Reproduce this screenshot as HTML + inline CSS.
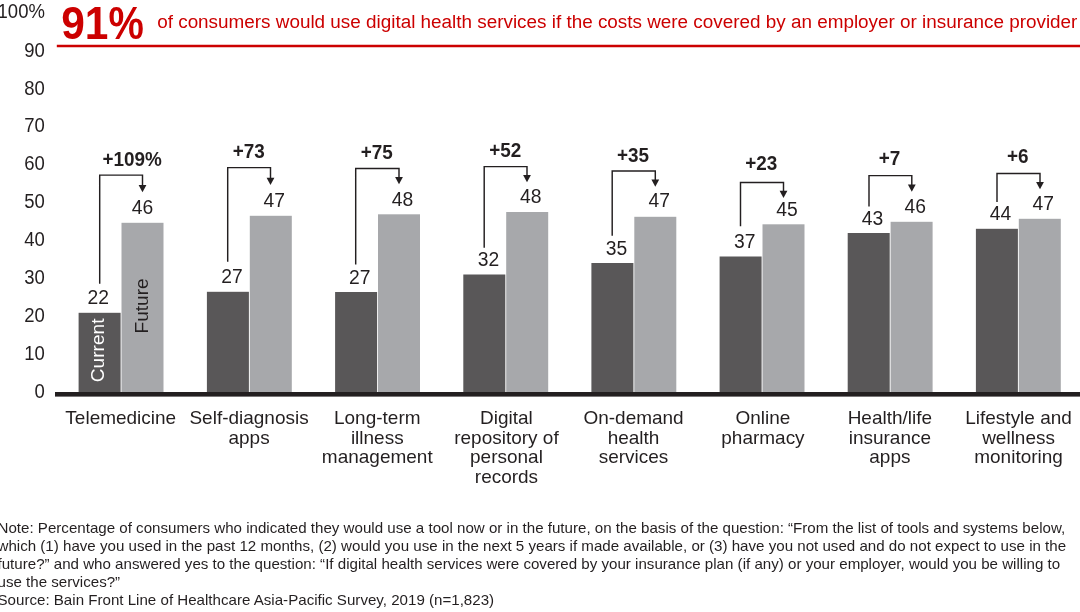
<!DOCTYPE html>
<html lang="en"><head><meta charset="utf-8"><title>Digital health services chart</title>
<style>
html,body{margin:0;padding:0;background:#fff;}
body{width:1080px;height:612px;overflow:hidden;position:relative;}
svg{position:absolute;left:0;top:0;display:block;}
text{font-family:"Liberation Sans",Arial,Helvetica,sans-serif;fill:#231f20;}
.num{font-size:19.3px;text-anchor:middle;}
.ax{font-size:19.5px;text-anchor:end;}
.cat{font-size:18.4px;text-anchor:middle;}
.delta{font-size:20.4px;font-weight:bold;text-anchor:middle;}
.foot{font-size:15.15px;}
.title{font-size:18.8px;fill:#cc0000;}
.big{font-size:46.3px;font-weight:bold;fill:#cc0000;}
.rot{font-size:19.1px;}
.br{fill:none;stroke:#231f20;stroke-width:1.45;}
</style></head><body>
<svg width="1080" height="612" viewBox="0 0 1080 612">
<rect width="1080" height="612" fill="#ffffff"/>
<text class="ax" transform="translate(44.90 397.60) scale(0.9500 1)">0</text>
<text class="ax" transform="translate(44.90 359.72) scale(0.9500 1)">10</text>
<text class="ax" transform="translate(44.90 321.84) scale(0.9500 1)">20</text>
<text class="ax" transform="translate(44.90 283.96) scale(0.9500 1)">30</text>
<text class="ax" transform="translate(44.90 246.08) scale(0.9500 1)">40</text>
<text class="ax" transform="translate(44.90 208.20) scale(0.9500 1)">50</text>
<text class="ax" transform="translate(44.90 170.32) scale(0.9500 1)">60</text>
<text class="ax" transform="translate(44.90 132.44) scale(0.9500 1)">70</text>
<text class="ax" transform="translate(44.90 94.56) scale(0.9500 1)">80</text>
<text class="ax" transform="translate(44.90 56.68) scale(0.9500 1)">90</text>
<text class="ax" transform="translate(44.90 18.40) scale(0.9500 1)">100%</text>
<text class="big" transform="translate(61.20 39.00) scale(0.9180 1)">91<tspan textLength="38.5" lengthAdjust="spacingAndGlyphs">%</tspan></text>
<text class="title" transform="translate(157.20 28.00) scale(1.0052 1)">of consumers would use digital health services if the costs were covered by an employer or insurance provider</text>
<rect x="56.8" y="44.75" width="1023.2" height="2.5" fill="#cc0000"/>
<rect x="78.6" y="312.8" width="42.0" height="79.7" fill="#595758"/>
<rect x="121.5" y="222.8" width="42.0" height="169.7" fill="#a7a8ab"/>
<rect x="206.9" y="291.8" width="42.0" height="100.7" fill="#595758"/>
<rect x="249.8" y="215.8" width="42.0" height="176.7" fill="#a7a8ab"/>
<rect x="335.1" y="292.0" width="42.0" height="100.5" fill="#595758"/>
<rect x="378.0" y="214.3" width="42.0" height="178.2" fill="#a7a8ab"/>
<rect x="463.3" y="274.5" width="42.0" height="118.0" fill="#595758"/>
<rect x="506.2" y="212.0" width="42.0" height="180.5" fill="#a7a8ab"/>
<rect x="591.4" y="263.0" width="42.0" height="129.5" fill="#595758"/>
<rect x="634.3" y="216.8" width="42.0" height="175.7" fill="#a7a8ab"/>
<rect x="719.6" y="256.5" width="42.0" height="136.0" fill="#595758"/>
<rect x="762.5" y="224.3" width="42.0" height="168.2" fill="#a7a8ab"/>
<rect x="847.7" y="233.0" width="42.0" height="159.5" fill="#595758"/>
<rect x="890.6" y="221.8" width="42.0" height="170.7" fill="#a7a8ab"/>
<rect x="975.9" y="228.8" width="42.0" height="163.7" fill="#595758"/>
<rect x="1018.8" y="218.8" width="42.0" height="173.7" fill="#a7a8ab"/>
<rect x="55" y="392" width="1025" height="4.6" fill="#231f20"/>
<text class="num" x="98.30" y="304.40">22</text>
<text class="num" x="142.50" y="214.20">46</text>
<text class="delta" transform="translate(132.10 166.20) scale(0.9270 1)">+109%</text>
<path class="br" d="M99.70 283.7V175.10H142.5V185.7"/>
<path d="M138.6 184.9L146.4 184.9L142.5 192.2Z" fill="#231f20"/>
<text class="num" x="232.00" y="283.20">27</text>
<text class="num" x="274.20" y="207.00">47</text>
<text class="delta" transform="translate(248.80 158.20) scale(0.9270 1)">+73</text>
<path class="br" d="M227.70 261.8V167.60H270.5V178.5"/>
<path d="M266.6 177.7L274.4 177.7L270.5 185.0Z" fill="#231f20"/>
<text class="num" x="359.80" y="283.70">27</text>
<text class="num" x="402.50" y="206.20">48</text>
<text class="delta" transform="translate(376.70 158.70) scale(0.9270 1)">+75</text>
<path class="br" d="M355.70 264.5V168.40H399.0V177.8"/>
<path d="M395.1 177.0L402.9 177.0L399.0 184.3Z" fill="#231f20"/>
<text class="num" x="488.60" y="265.70">32</text>
<text class="num" x="530.80" y="203.00">48</text>
<text class="delta" transform="translate(505.20 157.20) scale(0.9270 1)">+52</text>
<path class="br" d="M484.20 247.7V166.60H527.0V175.8"/>
<path d="M523.1 175.0L530.9 175.0L527.0 182.3Z" fill="#231f20"/>
<text class="num" x="616.50" y="254.70">35</text>
<text class="num" x="659.30" y="207.20">47</text>
<text class="delta" transform="translate(633.00 162.00) scale(0.9270 1)">+35</text>
<path class="br" d="M612.20 235.7V170.90H655.3V180.3"/>
<path d="M651.4 179.5L659.2 179.5L655.3 186.8Z" fill="#231f20"/>
<text class="num" x="744.70" y="247.80">37</text>
<text class="num" x="787.10" y="215.90">45</text>
<text class="delta" transform="translate(761.20 169.50) scale(0.9270 1)">+23</text>
<path class="br" d="M740.50 226.3V182.40H783.5V191.5"/>
<path d="M779.6 190.7L787.4 190.7L783.5 198.0Z" fill="#231f20"/>
<text class="num" x="872.50" y="224.70">43</text>
<text class="num" x="915.20" y="212.80">46</text>
<text class="delta" transform="translate(889.50 165.20) scale(0.9270 1)">+7</text>
<path class="br" d="M869.00 206.5V175.60H911.8V185.3"/>
<path d="M907.9 184.5L915.7 184.5L911.8 191.8Z" fill="#231f20"/>
<text class="num" x="1000.40" y="219.90">44</text>
<text class="num" x="1043.30" y="210.20">47</text>
<text class="delta" transform="translate(1017.80 162.70) scale(0.9270 1)">+6</text>
<path class="br" d="M997.00 201.9V173.40H1040.0V182.8"/>
<path d="M1036.1 182.0L1043.9 182.0L1040.0 189.3Z" fill="#231f20"/>
<text class="rot" transform="translate(104.4 382.2) rotate(-90)" style="fill:#fff">Current</text>
<text class="rot" transform="translate(148.1 333.5) rotate(-90)">Future</text>
<text class="cat" transform="translate(120.75 424.30) scale(1.0320 1)">Telemedicine</text>
<text class="cat" transform="translate(249.05 424.30) scale(1.0320 1)">Self-diagnosis</text>
<text class="cat" transform="translate(249.05 443.85) scale(1.0320 1)">apps</text>
<text class="cat" transform="translate(377.25 424.30) scale(1.0320 1)">Long-term</text>
<text class="cat" transform="translate(377.25 443.85) scale(1.0320 1)">illness</text>
<text class="cat" transform="translate(377.25 463.40) scale(1.0320 1)">management</text>
<text class="cat" transform="translate(506.45 424.30) scale(1.0320 1)">Digital</text>
<text class="cat" transform="translate(506.45 443.85) scale(1.0320 1)">repository of</text>
<text class="cat" transform="translate(506.45 463.40) scale(1.0320 1)">personal</text>
<text class="cat" transform="translate(506.45 482.95) scale(1.0320 1)">records</text>
<text class="cat" transform="translate(633.55 424.30) scale(1.0320 1)">On-demand</text>
<text class="cat" transform="translate(633.55 443.85) scale(1.0320 1)">health</text>
<text class="cat" transform="translate(633.55 463.40) scale(1.0320 1)">services</text>
<text class="cat" transform="translate(762.95 424.30) scale(1.0320 1)">Online</text>
<text class="cat" transform="translate(762.95 443.85) scale(1.0320 1)">pharmacy</text>
<text class="cat" transform="translate(889.85 424.30) scale(1.0320 1)">Health/life</text>
<text class="cat" transform="translate(889.85 443.85) scale(1.0320 1)">insurance</text>
<text class="cat" transform="translate(889.85 463.40) scale(1.0320 1)">apps</text>
<text class="cat" transform="translate(1018.55 424.30) scale(1.0320 1)">Lifestyle and</text>
<text class="cat" transform="translate(1018.55 443.85) scale(1.0320 1)">wellness</text>
<text class="cat" transform="translate(1018.55 463.40) scale(1.0320 1)">monitoring</text>
<text class="foot" transform="translate(-2.50 532.80) scale(0.9984 1)">Note: Percentage of consumers who indicated they would use a tool now or in the future, on the basis of the question: “From the list of tools and systems below,</text>
<text class="foot" transform="translate(-2.50 550.97) scale(0.9984 1)">which (1) have you used in the past 12 months, (2) would you use in the next 5 years if made available, or (3) have you not used and do not expect to use in the</text>
<text class="foot" transform="translate(-2.50 569.14) scale(0.9984 1)">future?” and who answered yes to the question: “If digital health services were covered by your insurance plan (if any) or your employer, would you be willing to</text>
<text class="foot" transform="translate(-2.50 587.31) scale(0.9984 1)">use the services?”</text>
<text class="foot" transform="translate(-2.50 605.48) scale(0.9984 1)">Source: Bain Front Line of Healthcare Asia-Pacific Survey, 2019 (n=1,823)</text>
</svg>
</body></html>
